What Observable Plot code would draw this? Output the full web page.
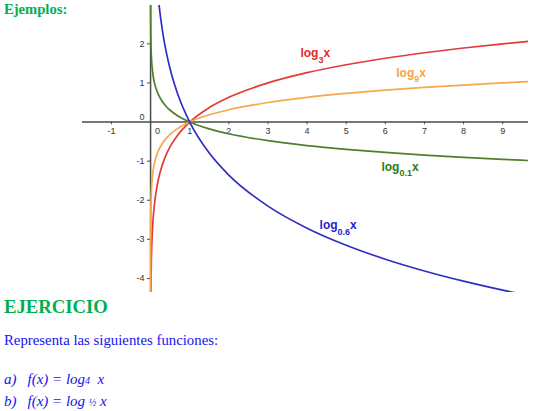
<!DOCTYPE html>
<html><head><meta charset="utf-8">
<script src="https://cdn.jsdelivr.net/npm/d3@7"></script>
<script src="https://cdn.jsdelivr.net/npm/@observablehq/plot@0.6"></script>
<style>
body{margin:0;width:541px;height:411px;position:relative;background:#fff;overflow:hidden;font-family:"Liberation Serif","Times New Roman",serif;}
#chart{position:absolute;left:80px;top:0;}
.t{position:absolute;left:4px;white-space:pre;}
.g{color:#00b050;font-weight:bold;}
.b{color:#1414ee;}
.it{font-style:italic;}
.sm{font-size:10px;}
.gap{display:inline-block;width:11px;}
</style>
</head><body>
<div class="t g" style="top:2px;font-size:14.6px;line-height:15px;">Ejemplos:</div>
<div id="chart"></div>
<div class="t g" style="top:297px;font-size:18.7px;line-height:19px;">EJERCICIO</div>
<div class="t b" style="top:333px;font-size:14.8px;line-height:15px;">Representa las siguientes funciones:</div>
<div class="t b it" style="top:372px;font-size:15px;line-height:15px;">a)<span class="gap"></span>f(x) = log<span class="sm">4</span>  x</div>
<div class="t b it" style="top:394px;font-size:15px;line-height:15px;">b)<span class="gap"></span>f(x) = log <span class="sm">½</span> x</div>
<script>
// sample x positions
const xs = [0.00001, 0.0001, 0.0003, 0.001, 0.003, 0.01, 0.02, 0.05, 0.1, 0.15, 0.2, 0.3, 0.4, 0.5, 0.7, 1, 1.5, 2, 3, 4, 5, 6, 7, 8, 9, 9.7];
// series values
const log3 = [-10.48, -8.384, -7.384, -6.288, -5.288, -4.192, -3.561, -2.727, -2.096, -1.727, -1.465, -1.096, -0.834, -0.631, -0.325, 0, 0.369, 0.631, 1, 1.262, 1.465, 1.631, 1.771, 1.893, 2, 2.068];
const log9 = [-5.24, -4.192, -3.692, -3.144, -2.644, -2.096, -1.781, -1.363, -1.048, -0.863, -0.732, -0.548, -0.417, -0.315, -0.162, 0, 0.185, 0.315, 0.5, 0.631, 0.732, 0.815, 0.886, 0.946, 1, 1.034];
const log01 = [5, 4, 3.523, 3, 2.523, 2, 1.699, 1.301, 1, 0.824, 0.699, 0.523, 0.398, 0.301, 0.155, 0, -0.176, -0.301, -0.477, -0.602, -0.699, -0.778, -0.845, -0.903, -0.954, -0.987];
const log06 = [null, null, null, null, null, null, null, 5.864, 4.508, 3.714, 3.151, 2.357, 1.794, 1.357, 0.698, 0, -0.794, -1.357, -2.151, -2.714, -3.151, -3.508, -3.809, -4.071, -4.301, -4.448];
// tick labels
const xTicks = [-1, 1, 2, 3, 4, 5, 6, 7, 8, 9];
const yTicks = [2, 1, -1, -2, -3, -4];
// curve labels: base of logarithm and anchor (data units)
const labelBases = ["3", "9", "0.1", "0.6"];
const labelX = [3.83, 6.28, 5.90, 4.32];
const labelY = [1.66, 1.16, -1.245, -2.74];

const seriesNames = ["log3", "log9", "log01", "log06"];
const seriesVals = [log3, log9, log01, log06];
const lineColors = ["#e43a3a", "#f5a94a", "#4f7f2e", "#2f2fc4"];
const labelColors = ["#dd2a2a", "#f2a54a", "#2f7a1c", "#2424cc"];

const rows = [];
seriesNames.forEach((s, i) => xs.forEach((x, j) => {
  if (seriesVals[i][j] != null) rows.push({s, x, y: seriesVals[i][j]});
}));
const labels = labelBases.map((b, i) => ({t: "log|" + b + "|x", x: labelX[i], y: labelY[i], s: seriesNames[i]}));

const plot = Plot.plot({
  width: 455, height: 296,
  marginLeft: 2, marginRight: 7, marginTop: 5, marginBottom: 4,
  x: {domain: [-1.74, 9.66], axis: null},
  y: {domain: [-4.36, 2.98], axis: null},
  color: {domain: seriesNames, range: lineColors},
  style: {background: "transparent", fontFamily: "'Liberation Sans', Arial, sans-serif", overflow: "visible"},
  marks: [
    Plot.ruleY([0], {stroke: "#4a4a4a", strokeWidth: 1.5}),
    Plot.ruleX([0], {stroke: "#4a4a4a", strokeWidth: 1.5}),
    Plot.ruleX(xTicks, {x: d => d, y1: 0, y2: -0.07, stroke: "#4a4a4a"}),
    Plot.ruleY(yTicks, {y: d => d, x1: -0.08, x2: 0, stroke: "#4a4a4a"}),
    Plot.text(xTicks, {x: d => d, y: 0, dy: 9, text: d => String(d), fontSize: 9, fill: "#333"}),
    Plot.text(yTicks, {x: 0, y: d => d, dx: -6, textAnchor: "end", text: d => String(d), fontSize: 9, fill: "#333"}),
    Plot.text([0], {x: 0, y: 0, dx: 7, dy: 9, text: d => String(d), fontSize: 9, fill: "#333"}),
    Plot.text([0], {x: 0, y: 0, dx: -6, dy: -5, textAnchor: "end", text: d => String(d), fontSize: 9, fill: "#333"}),
    Plot.line(rows, {x: "x", y: "y", z: "s", stroke: "s", strokeWidth: 1.7, curve: "monotone-x", clip: true}),
    Plot.text(labels, {x: "x", y: "y", text: "t", fill: d => labelColors[seriesNames.indexOf(d.s)], textAnchor: "start", lineAnchor: "bottom", fontSize: 12, fontWeight: "bold"})
  ]
});
document.getElementById("chart").appendChild(plot);

// render subscripts
d3.select(plot).selectAll("text").each(function() {
  const t = this.textContent;
  if (!t.includes("|")) return;
  const [a, b, c] = t.split("|");
  const el = d3.select(this);
  el.text("");
  el.append("tspan").text(a);
  el.append("tspan").attr("dy", 5.5).attr("font-size", 9).text(b);
  el.append("tspan").attr("dy", -5.5).text(c);
});
</script>
</body></html>
